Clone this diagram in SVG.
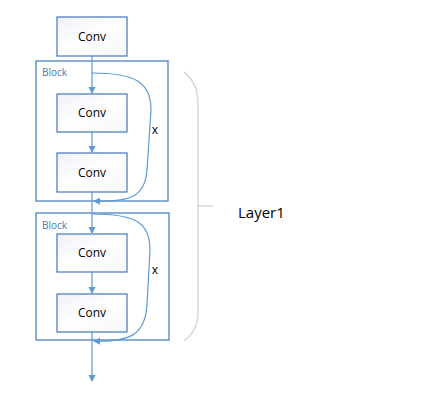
<svg xmlns="http://www.w3.org/2000/svg" width="424" height="416" viewBox="0 0 424 416">
<defs>
<linearGradient id="g" x1="0" y1="0" x2="1" y2="1">
<stop offset="0" stop-color="#eef1f8"/>
<stop offset="0.5" stop-color="#ffffff"/>
<stop offset="1" stop-color="#f4f6fa"/>
</linearGradient>
<marker id="ah" markerWidth="8" markerHeight="8" refX="6" refY="3.5" orient="auto" markerUnits="userSpaceOnUse">
<path d="M0,0 L7,3.5 L0,7 Z" fill="#5b9bd5"/>
</marker>
<style>
.conv{fill:url(#g);stroke:#4f81bd;stroke-width:1.3}
.block{fill:#ffffff;stroke:#4f81bd;stroke-width:1.3}
.t{font-family:"Segoe UI","Open Sans","Liberation Sans",sans-serif;font-size:12px;fill:#000;text-anchor:middle}
.bl{font-family:"Segoe UI","Open Sans","Liberation Sans",sans-serif;font-size:10px;fill:#4a76b0}
.c{fill:none;stroke:#5b9bd5;stroke-width:1.2}
.br{fill:none;stroke:#cfcfcf;stroke-width:1.2}
</style>
</defs>
<rect width="424" height="416" fill="#fff"/>
<g id="block1"><rect class="block" x="36" y="61" width="132" height="140"/><text class="bl" x="42" y="76">Block</text></g>
<g id="block2"><rect class="block" x="36" y="213" width="133" height="127"/><text class="bl" x="42" y="229">Block</text></g>
<g id="conv0"><rect class="conv" x="57" y="17" width="70" height="39"/><text class="t" x="92" y="41">Conv</text></g>
<g id="conv1"><rect class="conv" x="57" y="94" width="70" height="38"/><text class="t" x="92" y="117">Conv</text></g>
<g id="conv2"><rect class="conv" x="57" y="153" width="70" height="39"/><text class="t" x="92" y="177">Conv</text></g>
<g id="conv3"><rect class="conv" x="57" y="234" width="70" height="38"/><text class="t" x="92" y="257">Conv</text></g>
<g id="conv4"><rect class="conv" x="57" y="294" width="70" height="38"/><text class="t" x="92" y="317">Conv</text></g>
<g id="connectors">
<line class="c" x1="92" y1="56" x2="92" y2="93" marker-end="url(#ah)"/>
<line class="c" x1="92" y1="132" x2="92" y2="152" marker-end="url(#ah)"/>
<line class="c" x1="92" y1="192" x2="92" y2="233" marker-end="url(#ah)"/>
<line class="c" x1="92" y1="272" x2="92" y2="293" marker-end="url(#ah)"/>
<line class="c" x1="92" y1="332" x2="92" y2="381" marker-end="url(#ah)"/>
<path class="c" d="M92,73 C135,73 151,82 151,110 L147,170 C145,197 130,202 94,201" marker-end="url(#ah)"/>
<path class="c" d="M92,214 C135,214 150,222 150,250 L147,305 C145,335 130,342 94,341" marker-end="url(#ah)"/>
<text class="t" x="155" y="134" text-anchor="middle">x</text>
<text class="t" x="155" y="274" text-anchor="middle">x</text>
</g>
<g id="brace">
<path class="br" d="M184,72 C194,80 198,90 198,103 L198,313 C198,325 194,333 184,341"/>
<line class="br" x1="198" y1="206" x2="213" y2="206"/>
<text x="238" y="218" style="font-family:'Segoe UI','Open Sans','Liberation Sans',sans-serif;font-size:15px;fill:#000">Layer1</text>
</g>
</svg>
